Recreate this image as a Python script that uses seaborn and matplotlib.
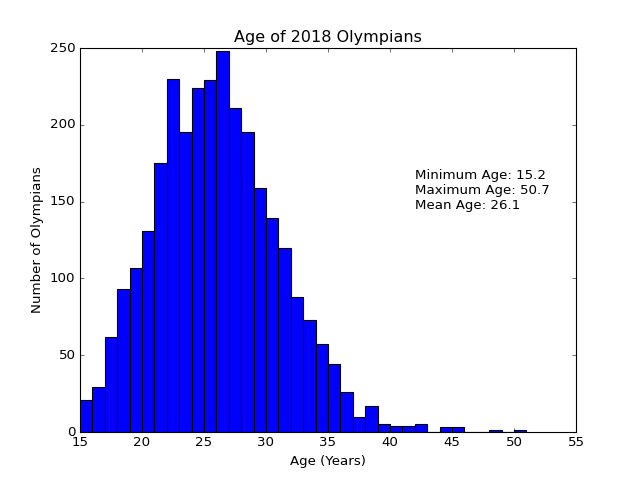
import matplotlib
matplotlib.use("Agg")
import matplotlib.pyplot as plt
import seaborn as sns
import numpy as np

bin_edges = list(range(15, 52))
counts = [21, 29, 62, 93, 107, 131, 175, 230, 195, 224,
          229, 248, 211, 195, 159, 139, 120, 88, 73, 57,
          44, 26, 10, 17, 5, 4, 4, 5, 0, 3,
          3, 0, 0, 1, 0, 1]
stats_text = "Minimum Age: 15.2\nMaximum Age: 50.7\nMean Age: 26.1"

plt.style.use("classic")
fig, ax = plt.subplots(figsize=(8, 6), dpi=80)

centers = [e + 0.5 for e in bin_edges[:-1]]
sns.histplot(x=centers, weights=counts, bins=bin_edges, ax=ax,
             color=(0, 0, 1), edgecolor="black", linewidth=1, alpha=1)

ax.set_xlim(15, 55)
ax.set_ylim(0, 250)
ax.set_title("Age of 2018 Olympians")
ax.set_xlabel("Age (Years)")
ax.set_ylabel("Number of Olympians")
ax.text(42, 145, stats_text)

fig.savefig("out.png", dpi=80)
